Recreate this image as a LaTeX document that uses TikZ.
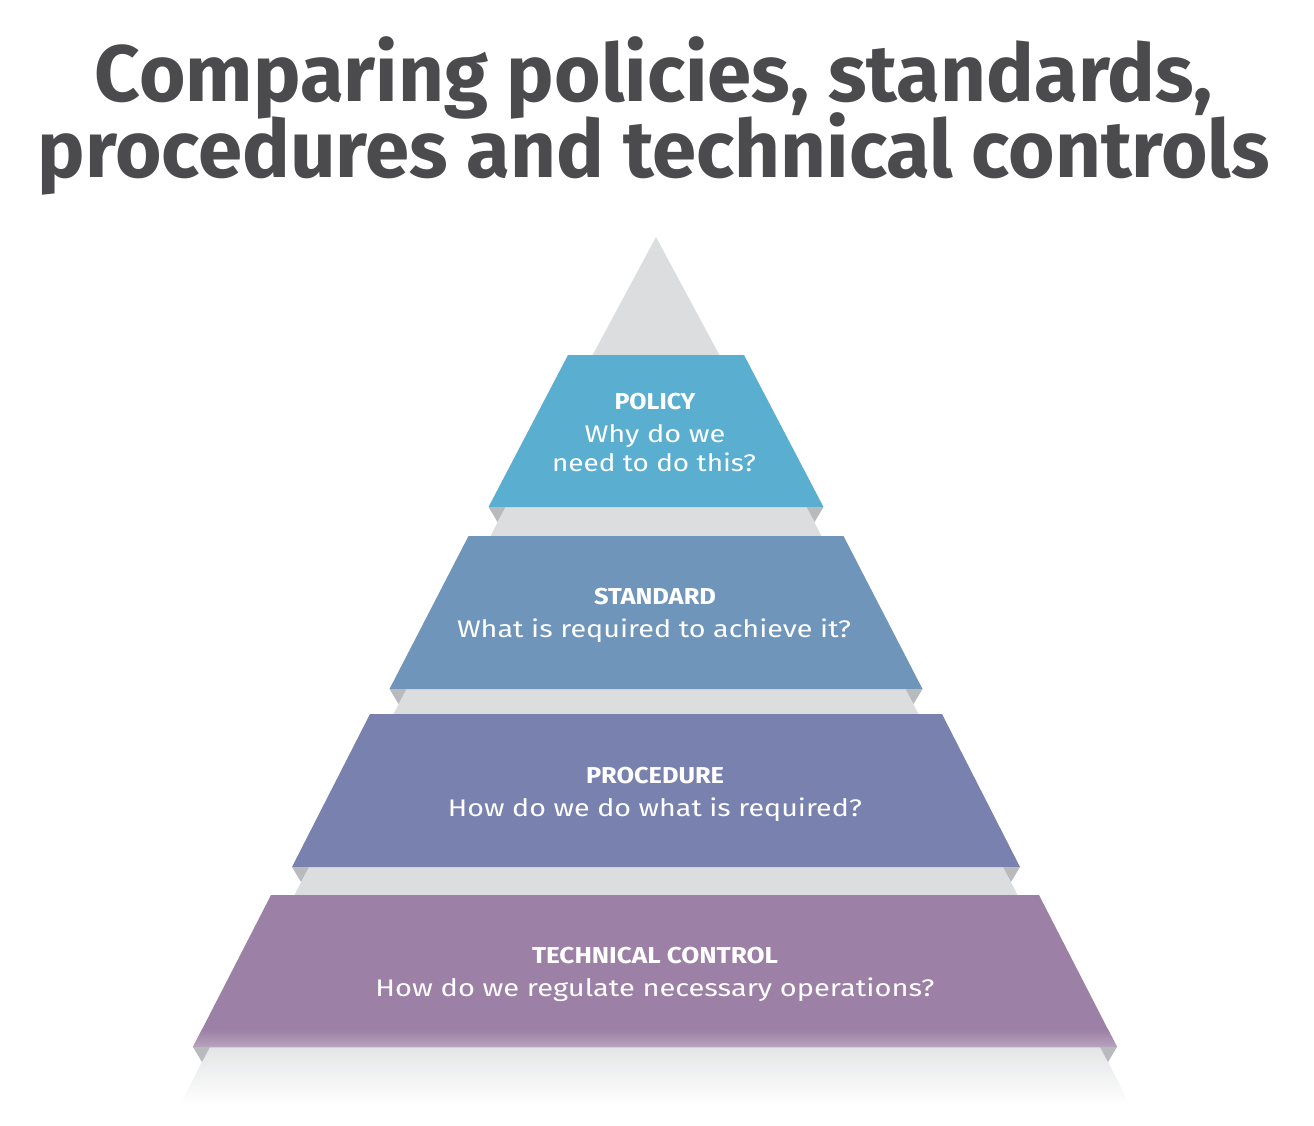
\documentclass[tikz,border=0pt]{standalone}
\usepackage{fontspec}
\setmainfont{Fira Sans}
\definecolor{policyc}{HTML}{5AAECF}
\definecolor{standardc}{HTML}{6F95BA}
\definecolor{procedurec}{HTML}{7982AE}
\definecolor{technicalc}{HTML}{9D80A6}
\definecolor{technicallt}{HTML}{B7A4BE}
\definecolor{pgray}{HTML}{DCDDDF}
\definecolor{pgraylt}{HTML}{E3E4E5}
\definecolor{pdark}{HTML}{B8BABE}
\definecolor{titlec}{HTML}{4B4B4E}
\newcommand{\fitw}[2]{\resizebox{#1pt}{\height}{#2}}
\begin{document}
\begin{tikzpicture}[x=1pt,y=-1pt,
  stripfill/.style={fill=pgray},
  foldfill/.style={fill=pdark},
  headtxt/.style={anchor=base,inner sep=0,text=white,font=\fontsize{23}{23}\selectfont\bfseries},
  bodytxt/.style={anchor=base,inner sep=0,text=white,font=\fontsize{24}{24}\selectfont},
  titletxt/.style={anchor=base,inner sep=0,text=titlec,font=\fontsize{80}{80}\selectfont\bfseries}]
\useasboundingbox (0,0) rectangle (1314,1126);
% grey pyramid behind
\fill[stripfill] (656,237) -- (591,358) -- (721,358) -- cycle;
\fill[stripfill] (505.5,507) -- (806.5,507) -- (822,537) -- (490,537) -- cycle;
\fill[stripfill] (406.5,689) -- (905.5,689) -- (919,715) -- (393,715) -- cycle;
\fill[stripfill] (309,867) -- (1003,867) -- (1018,896) -- (294,896) -- cycle;
\shade[top color=pgraylt, bottom color=white] (210,1046) -- (1100,1046) -- (1130,1105) -- (180,1105) -- cycle;
% bands
\fill[policyc] (568,355) -- (744,355) -- (823.5,507) -- (488.5,507) -- cycle;
\fill[standardc] (468.5,536) -- (843.5,536) -- (922.5,689) -- (389.5,689) -- cycle;
\fill[procedurec] (370,714) -- (942,714) -- (1020,867) -- (292,867) -- cycle;
\fill[technicalc] (271,895) -- (1039,895) -- (1117,1047) -- (193,1047) -- cycle;
\shade[top color=technicalc, bottom color=technicallt] (201.7,1030) -- (1108.3,1030) -- (1117,1047) -- (193,1047) -- cycle;
% folds
\fill[foldfill] (488.5,507) -- (505.5,507) -- (497.5,522) -- cycle;
\fill[foldfill] (823.5,507) -- (806.5,507) -- (814.5,522) -- cycle;
\fill[foldfill] (389.5,689) -- (406.5,689) -- (398.5,704) -- cycle;
\fill[foldfill] (922.5,689) -- (905.5,689) -- (913.5,704) -- cycle;
\fill[foldfill] (292,867) -- (309,867) -- (301,882) -- cycle;
\fill[foldfill] (1020,867) -- (1003,867) -- (1011,882) -- cycle;
\fill[foldfill] (193,1047) -- (210,1047) -- (202,1062) -- cycle;
\fill[foldfill] (1117,1047) -- (1100,1047) -- (1108,1062) -- cycle;
% title
\node[titletxt] (title1) at (654,102) {\fitw{1118}{Comparing policies, standards,}};
\node[titletxt] (title2) at (654,178) {\fitw{1232}{procedures and technical controls}};
% labels
\node[headtxt] (polh) at (655,409) {\fitw{81}{POLICY}};
\node[bodytxt] (polb1) at (655,442) {\fitw{141}{Why do we}};
\node[bodytxt] (polb2) at (654,471) {\fitw{204}{need to do this?}};
\node[headtxt] (stah) at (655,604) {\fitw{122}{STANDARD}};
\node[bodytxt] (stab) at (654,637) {\fitw{394}{What is required to achieve it?}};
\node[headtxt] (proh) at (655,783) {\fitw{138}{PROCEDURE}};
\node[bodytxt] (prob) at (655,816) {\fitw{414}{How do we do what is required?}};
\node[headtxt] (tech) at (655,963) {\fitw{246}{TECHNICAL CONTROL}};
\node[bodytxt] (tecb) at (655,996) {\fitw{559}{How do we regulate necessary operations?}};
\end{tikzpicture}
\end{document}
